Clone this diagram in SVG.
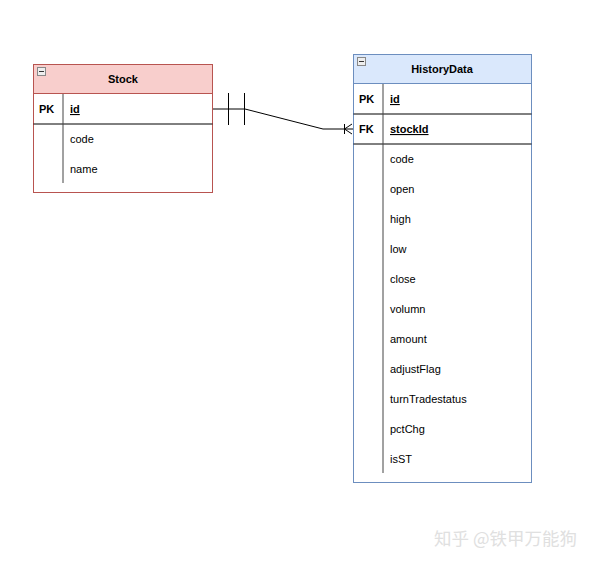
<svg xmlns="http://www.w3.org/2000/svg" width="594" height="564" viewBox="0 0 594 564">
<style>
text{font-family:"Liberation Sans",Arial,sans-serif;font-size:11px;fill:#000}
.b{font-weight:bold}
.u{text-decoration:underline}
.ln{stroke:#000;stroke-width:1;fill:none}
.icon{fill:#eeeeee;stroke:#888888;stroke-width:1}
.wm{font-family:"Noto Sans CJK SC","Liberation Sans",sans-serif;font-size:17.5px;fill:#e0e0e0}
</style>
<rect width="594" height="564" fill="#ffffff"/>
<g id="stock">
<rect x="33.5" y="64.5" width="179" height="128" fill="#ffffff" stroke="#b85450"/>
<rect x="33.5" y="64.5" width="179" height="29" fill="#f8cecc" stroke="#b85450"/>
<rect x="37.5" y="67.5" width="8" height="8" class="icon"/>
<line x1="39" y1="71.5" x2="44" y2="71.5" stroke="#333"/>
<text x="123" y="83" text-anchor="middle" class="b">Stock</text>
<line x1="33.5" y1="124" x2="212.5" y2="124" class="ln"/>
<line x1="63" y1="94" x2="63" y2="183" stroke="#444" stroke-width="1"/>
<text x="39" y="113" class="b">PK</text>
<text x="70" y="113" class="b u">id</text>
<text x="70" y="143">code</text>
<text x="70" y="173">name</text>
</g>
<g id="historydata">
<rect x="353.5" y="54.5" width="178" height="428" fill="#ffffff" stroke="#6c8ebf"/>
<rect x="353.5" y="54.5" width="178" height="29" fill="#dae8fc" stroke="#6c8ebf"/>
<rect x="357.5" y="57.5" width="8" height="8" class="icon"/>
<line x1="359" y1="61.5" x2="364" y2="61.5" stroke="#333"/>
<text x="442" y="73" text-anchor="middle" class="b">HistoryData</text>
<line x1="353.5" y1="114" x2="531.5" y2="114" class="ln"/>
<line x1="353.5" y1="144" x2="531.5" y2="144" class="ln"/>
<line x1="383" y1="84" x2="383" y2="473" stroke="#444" stroke-width="1"/>
<text x="359" y="103" class="b">PK</text>
<text x="390" y="103" class="b u">id</text>
<text x="359" y="133" class="b">FK</text>
<text x="390" y="133" class="b u">stockId</text>
<text x="390" y="163">code</text>
<text x="390" y="193">open</text>
<text x="390" y="223">high</text>
<text x="390" y="253">low</text>
<text x="390" y="283">close</text>
<text x="390" y="313">volumn</text>
<text x="390" y="343">amount</text>
<text x="390" y="373">adjustFlag</text>
<text x="390" y="403">turnTradestatus</text>
<text x="390" y="433">pctChg</text>
<text x="390" y="463">isST</text>
</g>
<g id="connectors">
<polyline points="213,109 245,109 323,129 353,129" class="ln"/>
<line x1="228.5" y1="93" x2="228.5" y2="125" class="ln"/>
<line x1="244.5" y1="93" x2="244.5" y2="125" class="ln"/>
<line x1="344.5" y1="124" x2="344.5" y2="134" class="ln"/>
<polyline points="352,124 344.5,129 352,134" class="ln"/>
</g>
<text x="434" y="545" class="wm">知乎 @铁甲万能狗</text>
</svg>
